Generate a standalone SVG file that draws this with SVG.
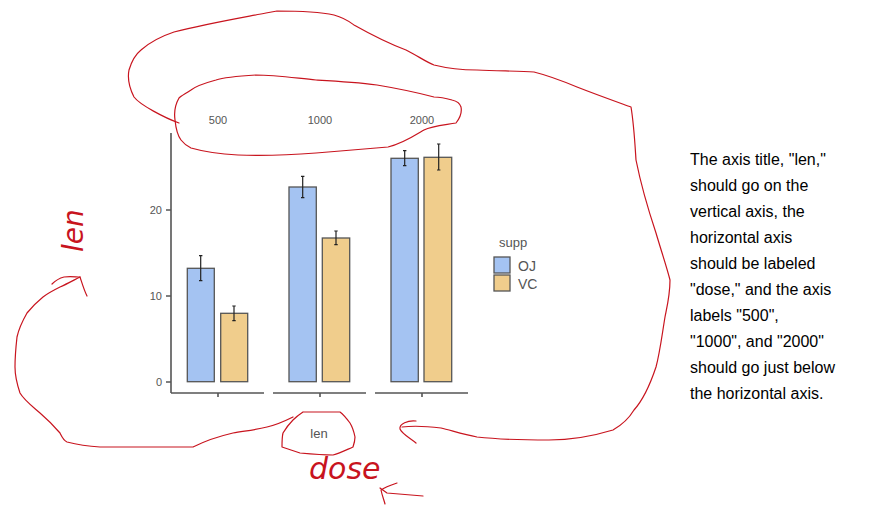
<svg xmlns="http://www.w3.org/2000/svg" width="879" height="528" viewBox="0 0 879 528">
<style>
.ax{stroke:#555;stroke-width:1.6;fill:none}
.tk{font-family:"Liberation Sans",Arial,sans-serif;font-size:11px;fill:#555}
.oj{fill:#a4c3f2;stroke:#555;stroke-width:1.3}
.vc{fill:#f0cd8c;stroke:#555;stroke-width:1.3}
.eb{stroke:#222;stroke-width:1.2;fill:none}
.red{stroke:#c8141e;stroke-width:1.2;fill:none;stroke-linejoin:round;stroke-linecap:round}
.hand{font-family:"DejaVu Sans",sans-serif;fill:#c8141e}
.note{font-family:"Liberation Sans",Arial,sans-serif;font-size:16px;fill:#000}
</style>
<rect width="879" height="528" fill="#fff"/>
<g id="chart">
<path class="ax" d="M171,133V393M166,382H171M166,296H171M166,210H171M171,393H264M273,393H366M375,393H468M218,393V397M320,393V397M422,393V397"/>
<text class="tk" x="162" y="386" text-anchor="end">0</text>
<text class="tk" x="162" y="300" text-anchor="end">10</text>
<text class="tk" x="162" y="214" text-anchor="end">20</text>
<text class="tk" x="218" y="124" text-anchor="middle">500</text>
<text class="tk" x="320" y="124" text-anchor="middle">1000</text>
<text class="tk" x="422" y="124" text-anchor="middle">2000</text>
<rect class="oj" x="187.3" y="268.3" width="27" height="113.4"/>
<rect class="vc" x="220.7" y="313.3" width="27" height="68.4"/>
<rect class="oj" x="289" y="187" width="27.3" height="194.7"/>
<rect class="vc" x="322.3" y="238" width="27.4" height="143.7"/>
<rect class="oj" x="391" y="158.3" width="27.3" height="223.4"/>
<rect class="vc" x="424" y="157.3" width="27.7" height="224.4"/>
<path class="eb" d="M200.7,255.7V280.7M199,255.7H202.4M199,280.7H202.4M234,306V320.7M232.3,306H235.7M232.3,320.7H235.7M302.7,176.3V197.7M301,176.3H304.4M301,197.7H304.4M336,231V244.7M334.3,231H337.7M334.3,244.7H337.7M404.7,150.7V165.7M403,150.7H406.4M403,165.7H406.4M438.7,144V170M437,144H440.4M437,170H440.4"/>
<text class="tk" x="319" y="438" text-anchor="middle" style="font-size:13px">len</text>
</g>
<g id="legend">
<text class="tk" x="499" y="247" style="font-size:13px">supp</text>
<rect class="oj" x="494" y="257" width="16" height="16"/>
<rect class="vc" x="494" y="275" width="16" height="16"/>
<text class="tk" x="518" y="271" style="font-size:14px">OJ</text>
<text class="tk" x="518" y="289" style="font-size:14px">VC</text>
</g>
<g id="annotations">
<path class="red" d="M179,123C165,118 140,105 134,97C128,85 128,75 129,70C132,60 136,54 141,50C150,42 162,36 174,32C205,24 240,18 266,13L277,11C300,11 320,12 334,15C345,18 350,22 354,25C370,34 390,44 406,50C418,56 426,62 434,65C450,69 465,70 477,70C500,71 520,71 534,72C550,76 565,82 577,87C600,96 620,103 631,107C634,125 635,145 636,160C642,190 650,215 656,233C661,250 667,268 670,280C670,295 667,307 665,317C662,335 660,352 656,367C650,385 643,400 634,410C628,420 620,426 613,430C590,437 570,440 549,440C520,440 495,439 477,437C462,434 450,430 441,428C425,426 410,426 402,427"/>
<path class="red" d="M416,421C408,420 399,424 400,429C402,434 410,438 416,443"/>
<path class="red" d="M179,98C175,105 174,113 175,120C176,130 178,136 181,140C184,144 187,146 191,148C205,152 220,154 238,155C265,156 290,155 316,153C340,151 365,149 388,147C402,144 414,136 424,130C432,126 445,125 456,123C460,118 462,112 461,107C460,103 456,101 452,100C445,98 440,97 434,97C415,92 395,88 377,85C355,82 335,81 316,80C295,78 275,75 256,75C240,76 225,77 216,80C205,83 196,86 191,90C185,94 181,96 179,98Z"/>
<path class="red" d="M293,417C285,421 276,425 267,427C255,430 244,431 233,433C220,436 205,441 193,447C160,447 130,447 100,447C85,446 75,444 67,442C63,440 62,437 60,433C54,426 47,419 40,413C32,406 24,400 20,393C17,384 15,375 15,367C15,357 16,346 17,337C19,328 23,320 27,313C32,307 38,301 43,297C48,293 54,290 60,287C67,284 74,280 80,277"/>
<path class="red" d="M52,284C56,280 60,278 64,277C70,276 76,277 80,277C82,283 84,290 87,296"/>
<path class="red" d="M303,412C315,412 328,412 340,412C344,415 347,419 350,423C353,428 354,432 355,437C355,441 354,444 353,447C346,450 340,453 333,455C322,455 311,454 300,453C294,451 288,449 282,447C282,442 282,437 283,433C286,428 289,424 293,420C296,417 300,414 303,412"/>
<path class="red" d="M423,496C410,495 398,494 387,493L380,488M397,483C391,485 385,487 381,490C382,495 384,500 385,504"/>
<text class="hand" x="0" y="0" transform="translate(83,252) rotate(-90)" style="font-size:28px;font-style:italic">len</text>
<text class="hand" x="309" y="479" style="font-size:30px;font-style:italic">dose</text>
</g>
<g id="note">
<text class="note" x="690" y="165">The axis title, "len,"</text>
<text class="note" x="690" y="191">should go on the</text>
<text class="note" x="690" y="217">vertical axis, the</text>
<text class="note" x="690" y="243">horizontal axis</text>
<text class="note" x="690" y="269">should be labeled</text>
<text class="note" x="690" y="295">"dose," and the axis</text>
<text class="note" x="690" y="321">labels "500",</text>
<text class="note" x="690" y="347">"1000", and "2000"</text>
<text class="note" x="690" y="373">should go just below</text>
<text class="note" x="690" y="399">the horizontal axis.</text>
</g>
</svg>
